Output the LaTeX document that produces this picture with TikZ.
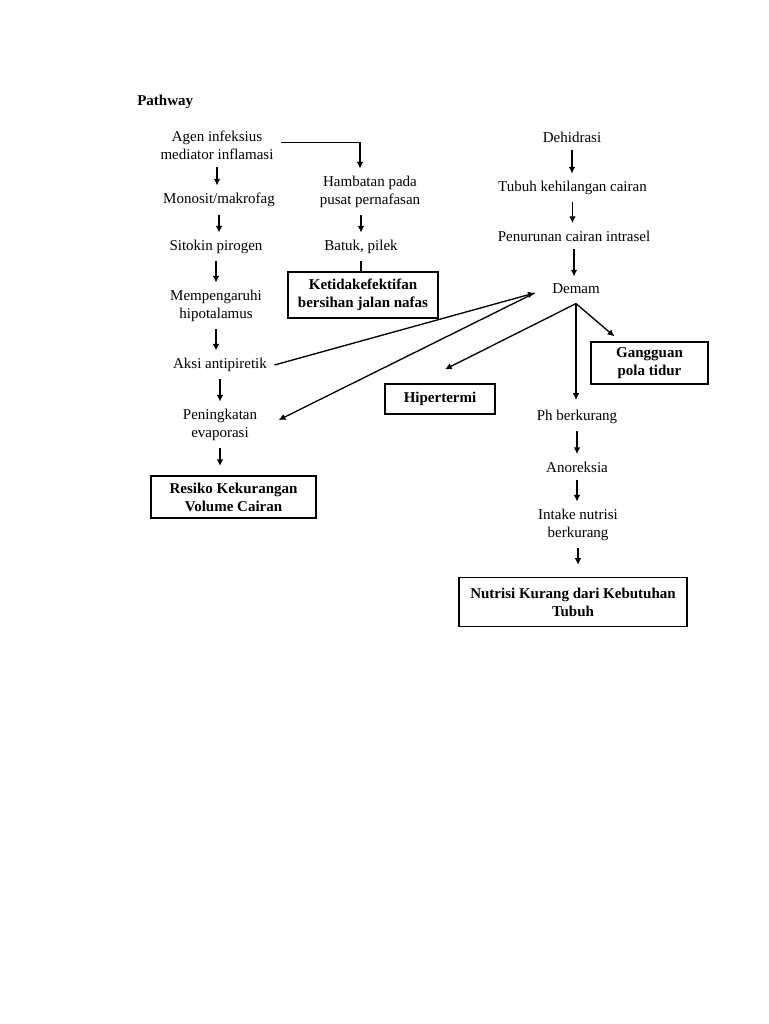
\documentclass[tikz,border=0pt]{standalone}
\usepackage{fontspec}
\setmainfont{Liberation Serif}
\usetikzlibrary{arrows.meta,calc}
\begin{document}
\begin{tikzpicture}[x=0.75pt,y=-0.75pt,
  txt/.style={align=center,inner sep=5.5pt,font=\fontsize{11.25}{13.5}\selectfont},
  bx/.style={draw,line width=1pt,align=center,inner sep=2pt,font=\fontsize{11.25}{13.5}\selectfont\bfseries},
  arr/.style={-{Latex[length=5pt,width=5pt]},line width=1pt},
  ln/.style={line width=1pt}]
\useasboundingbox[fill=white] (0,0) rectangle (768,1024);

\node[anchor=west,inner sep=0,font=\fontsize{11.25}{13.5}\selectfont\bfseries] (title) at (137,102) {Pathway};

% left column
\node[txt] (agen) at (217,145) {Agen infeksius\\mediator inflamasi};
\node[txt] (mono) at (219,200) {Monosit/makrofag};
\node[txt] (sito) at (216,247) {Sitokin pirogen};
\node[txt] (memp) at (216,306) {Mempengaruhi\\hipotalamus};
\node[txt] (aksi) at (220,365) {Aksi antipiretik};
\node[txt] (peni) at (220,425) {Peningkatan\\evaporasi};
\node[bx,minimum width=123.75pt,minimum height=31.5pt] (resiko) at (233.5,497) {Resiko Kekurangan\\Volume Cairan};

% middle column
\node[txt] (hamb) at (370,192) {Hambatan pada\\pusat pernafasan};
\node[txt] (batuk) at (361,247) {Batuk, pilek};
\node[bx,minimum width=112.5pt,minimum height=34.5pt] (keti) at (363,295) {Ketidakefektifan\\bersihan jalan nafas};

% right column
\node[txt] (dehi) at (572,137) {Dehidrasi};
\node[txt] (tubuh) at (572.5,188) {Tubuh kehilangan cairan};
\node[txt] (penu) at (574,236) {Penurunan cairan intrasel};
\node[txt] (demam) at (576,289) {Demam};
\node[bx,minimum width=82.5pt,minimum height=22.5pt] (hiper) at (440,399) {Hipertermi};
\node[bx,minimum width=87.75pt,minimum height=31.5pt] (gang) at (649.5,363) {Gangguan\\pola tidur};
\node[txt] (ph) at (577,417) {Ph berkurang};
\node[txt] (anor) at (577,467) {Anoreksia};
\node[txt] (intake) at (578,525) {Intake nutrisi\\berkurang};
\node[bx,minimum width=171pt,minimum height=36.75pt] (nutri) at (573,602) {Nutrisi Kurang dari Kebutuhan\\Tubuh};

% left arrows
\draw[arr] (agen.south) -- (agen.south |- mono.north);
\draw[arr] (mono.south) -- (mono.south |- sito.north);
\draw[arr] (sito.south) -- (sito.south |- memp.north);
\draw[arr] (memp.south) -- (memp.south |- aksi.north);
\draw[arr] (aksi.south) -- (aksi.south |- peni.north);
\draw[arr,shorten >=7pt] (peni.south) -- (peni.south |- resiko.north);

% middle arrows
\draw[arr] ([yshift=2pt]agen.east) -| ([xshift=-7.5pt]hamb.north);
\draw[arr] (batuk.north |- hamb.south) -- (batuk.north);
\draw[ln] (batuk.south) -- (batuk.south |- keti.north);

% right arrows
\draw[arr] (dehi.south) -- (dehi.south |- tubuh.north);
\draw[arr] (tubuh.south) -- (tubuh.south |- penu.north);
\draw[arr] (penu.south) -- (penu.south |- demam.north);

\coordinate (apex) at ($(demam.south)+(0,2)$);
\coordinate (demin) at ($(demam.west)+(-10,4)$);
\draw[arr] (aksi.east) -- (demin);
\draw[arr] (demin) -- ($(peni.east)+(14,-5)$);
\draw[arr] (apex) -- ($(hiper.north)+(5,-14)$);
\draw[arr] (apex) -- ($(gang.north west)+(24,-5)$);
\draw[arr,shorten >=2pt] (apex) -- (apex |- ph.north);
\draw[arr] (ph.south) -- (ph.south |- anor.north);
\draw[arr] (anor.south) -- (anor.south |- intake.north);
\draw[arr,shorten >=9pt] (intake.south) -- (intake.south |- nutri.north);
\end{tikzpicture}
\end{document}
